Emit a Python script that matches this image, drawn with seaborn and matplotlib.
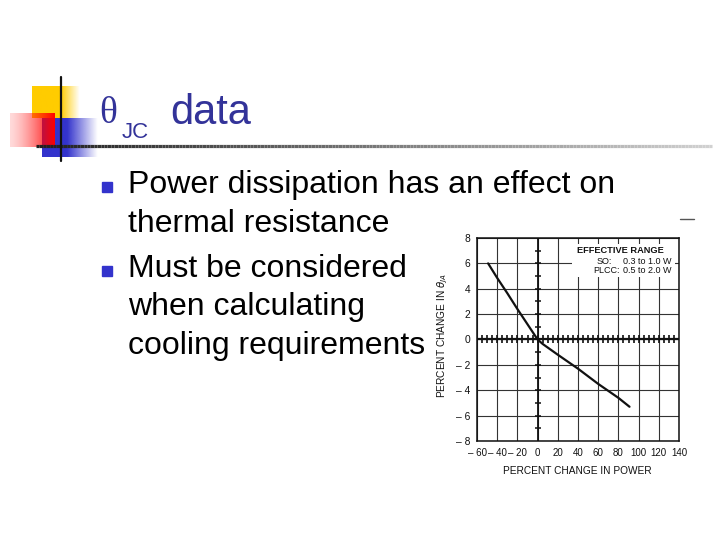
import numpy as np
import pandas as pd
import matplotlib
matplotlib.use('Agg')
import matplotlib.pyplot as plt
import seaborn as sns
from matplotlib.patches import Rectangle
from matplotlib.collections import LineCollection

# curve (percent change in power vs percent change in theta_JA)
power_change = [-49, -40, -30, -20, -10, 0, 5, 20, 40, 60, 80, 91]
theta_change = [6.0, 4.85, 3.65, 2.4, 1.2, 0.0, -0.35, -1.2, -2.3, -3.5, -4.6, -5.3]

x_ticks = [-60, -40, -20, 0, 20, 40, 60, 80, 100, 120, 140]
y_ticks = [-8, -6, -4, -2, 0, 2, 4, 6, 8]

range_title = 'EFFECTIVE RANGE'
range_pkgs = ['SO:', 'PLCC:']
range_vals = ['0.3 to 1.0 W', '0.5 to 2.0 W']

bullets = [
    ['Power dissipation has an effect on', 'thermal resistance'],
    ['Must be considered', 'when calculating', 'cooling requirements'],
]

slide_blue = '#333399'
bullet_blue = '#3333CC'
ink = '#111111'

sns.set_theme(style='white')
plt.rcParams['font.family'] = ['Liberation Sans', 'DejaVu Sans']

fig = plt.figure(figsize=(7.2, 5.4), dpi=100)
fig.patch.set_facecolor('white')

# background axes in pixel coords for the slide decoration
bg = fig.add_axes([0, 0, 1, 1])
bg.set_xlim(0, 720)
bg.set_ylim(540, 0)
bg.axis('off')

n = 100
t = np.linspace(0, 1, n)

# yellow square, solid then fading right
img = np.zeros((2, n, 4))
img[..., :3] = matplotlib.colors.to_rgb('#FFCC00')
img[..., 3] = np.where(t < 0.6, 1.0, 1.0 - (t - 0.6) / 0.4)
bg.imshow(img, extent=(32, 80, 118, 86), aspect='auto', zorder=1)

# blue square, solid then fading right
img = np.zeros((2, n, 4))
img[..., :3] = matplotlib.colors.to_rgb(bullet_blue)
img[..., 3] = np.where(t < 0.45, 1.0, np.clip(1.0 - (t - 0.45) / 0.55, 0, 1))
bg.imshow(img, extent=(42, 98, 157, 118), aspect='auto', zorder=2)

# red block, pale on the left, strong on the right
img = np.zeros((2, n, 4))
img[..., :3] = matplotlib.colors.to_rgb('#FF0000')
img[..., 3] = 0.15 + 0.85 * t ** 1.4
bg.imshow(img, extent=(10, 55, 147, 113), aspect='auto', zorder=3)

# vertical bar and fading rule
bg.plot([61, 61], [77, 161], color='#111111', lw=1.6, zorder=5)
xs = np.linspace(36, 712, 200)
segs = [[(xs[i], 146), (xs[i + 1], 146)] for i in range(len(xs) - 1)]
shade = np.linspace(0.12, 0.82, len(segs))
bg.add_collection(LineCollection(segs, colors=[(s, s, s) for s in shade], linewidths=2.3, zorder=4))

# title
bg.text(99, 123, '\u03b8', fontsize=27, color=slide_blue, family=['Liberation Serif', 'DejaVu Serif'], va='baseline')
bg.text(122, 138, 'JC', fontsize=16, color=slide_blue, va='baseline')
bg.text(170, 124, 'data', fontsize=30, color=slide_blue, va='baseline')

# bullet text
y = 193
for group in bullets:
    bg.add_patch(Rectangle((102, y - 11), 10, 10, color=bullet_blue, zorder=5))
    for line in group:
        bg.text(128, y, line, fontsize=23, color='black', va='baseline')
        y += 38.5
    y += 7

# small dash at top right of the scanned graph
bg.plot([680, 694], [219, 219], color='#555555', lw=1)

# the scanned graph
ax = fig.add_axes([477 / 720, 1 - 441 / 540, 202 / 720, 203 / 540])
ax.set_facecolor('white')
ax.set_xlim(-60, 140)
ax.set_ylim(-8, 8)
ax.set_xticks(x_ticks)
ax.set_yticks(y_ticks)
fmt = lambda v: ('\u2013 ' + str(abs(int(v)))) if v < 0 else str(int(v))
ax.set_xticklabels([fmt(v) for v in x_ticks], fontsize=7, color=ink)
ax.set_yticklabels([fmt(v) for v in y_ticks], fontsize=7.4, color=ink)
ax.tick_params(length=0, pad=5)
ax.grid(True, color='#333333', lw=0.8)
for s in ax.spines.values():
    s.set_color(ink)
    s.set_linewidth(1.1)

ax.axhline(0, color=ink, lw=1.6, zorder=2)
ax.axvline(0, color=ink, lw=1.3, zorder=2)
hx = np.arange(-55, 140, 5)
ax.plot(hx, np.zeros_like(hx), ls='', marker='|', ms=6, mew=1.2, color=ink, zorder=2)
vy = np.arange(-7, 8, 1)
ax.plot(np.zeros_like(vy), vy, ls='', marker='_', ms=5, mew=1.1, color=ink, zorder=2)

df = pd.DataFrame({'power': power_change, 'theta': theta_change})
sns.lineplot(data=df, x='power', y='theta', color=ink, lw=1.6, ax=ax, zorder=3)

ax.add_patch(Rectangle((34, 4.9), 102, 2.6, fc='white', ec='none', zorder=4))
ax.text(81.6, 7.05, range_title, fontsize=6.7, weight='bold', color=ink, ha='center', va='center', zorder=5)
for i, (pkg, val) in enumerate(zip(range_pkgs, range_vals)):
    yy = 6.15 - i * 0.7
    ax.text(81.5 - (8 if i == 0 else 0), yy, pkg, fontsize=6.5, color=ink, ha='right', va='center', zorder=5)
    ax.text(85, yy, val, fontsize=6.5, color=ink, ha='left', va='center', zorder=5)

ax.set_xlabel('PERCENT CHANGE IN POWER', fontsize=7.3, color=ink)
ax.set_ylabel(r'PERCENT CHANGE IN $\theta_{JA}$', fontsize=7.3, color=ink)
ax.xaxis.set_label_coords(0.495, -0.125)
ax.yaxis.set_label_coords(-0.135, 0.52)

fig.savefig('out.png', dpi=100)
